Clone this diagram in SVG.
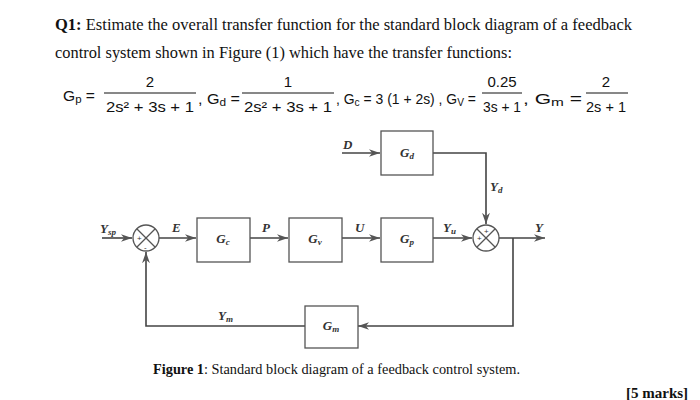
<svg xmlns="http://www.w3.org/2000/svg" width="700" height="400" viewBox="0 0 700 400">
<style>
.t{font-family:"Liberation Serif",serif;font-size:16.5px;fill:#111}
.m{font-family:"Liberation Sans",sans-serif;font-size:15px;fill:#111}
.b rect{fill:#fff;stroke:#555;stroke-width:1.3}
.l{font-family:"Liberation Serif",serif;font-style:italic;font-weight:bold;font-size:13px;fill:#333}
.c line,.c path{stroke:#444;stroke-width:1.6;fill:none}
.s circle{fill:#fff;stroke:#555;stroke-width:1.3}
.s line{stroke:#555;stroke-width:1.2}
.p{font-family:"Liberation Sans",sans-serif;font-size:8px;fill:#333}
</style>
<defs><marker id="a" viewBox="0 0 10 10" refX="10" refY="5" markerWidth="7" markerHeight="7" orient="auto"><path d="M0,1.5 L10,5 L0,8.5 L3,5 z" fill="#555"/></marker></defs>
<rect width="700" height="400" fill="#fff"/>
<text class="t" x="55" y="30" textLength="577" lengthAdjust="spacingAndGlyphs"><tspan font-weight="bold">Q1:</tspan> Estimate the overall transfer function for the standard block diagram of a feedback</text>
<text class="t" x="55" y="58" textLength="457" lengthAdjust="spacingAndGlyphs">control system shown in Figure (1) which have the transfer functions:</text>
<g class="m">
<text x="63" y="101" textLength="32" lengthAdjust="spacingAndGlyphs">G<tspan font-size="11" dy="2">p</tspan><tspan dy="-2"> =</tspan></text>
<text x="150" y="87" text-anchor="middle">2</text>
<line x1="104" y1="93" x2="196" y2="93" stroke="#111"/>
<text x="150" y="112" text-anchor="middle" textLength="88" lengthAdjust="spacingAndGlyphs">2s² + 3s + 1</text>
<text x="198" y="104" textLength="42" lengthAdjust="spacingAndGlyphs">, G<tspan font-size="11" dy="2">d</tspan><tspan dy="-2"> =</tspan></text>
<text x="288" y="87" text-anchor="middle">1</text>
<line x1="242" y1="93" x2="334" y2="93" stroke="#111"/>
<text x="288" y="112" text-anchor="middle" textLength="88" lengthAdjust="spacingAndGlyphs">2s² + 3s + 1</text>
<text x="336" y="104" textLength="140" lengthAdjust="spacingAndGlyphs">, G<tspan font-size="11" dy="2">c</tspan><tspan dy="-2"> = 3 (1 + 2s) , G</tspan><tspan font-size="11" dy="2">V</tspan><tspan dy="-2"> =</tspan></text>
<text x="502" y="87" text-anchor="middle">0.25</text>
<line x1="482" y1="93" x2="522" y2="93" stroke="#111"/>
<text x="502" y="112" text-anchor="middle" textLength="38" lengthAdjust="spacingAndGlyphs">3s + 1</text>
<text x="523" y="104" textLength="59" lengthAdjust="spacingAndGlyphs">, G<tspan font-size="11" dy="2">m</tspan><tspan dy="-2"> =</tspan></text>
<text x="606" y="87" text-anchor="middle">2</text>
<line x1="586" y1="93" x2="628" y2="93" stroke="#111"/>
<text x="606" y="112" text-anchor="middle" textLength="40" lengthAdjust="spacingAndGlyphs">2s + 1</text>
</g>
<g class="c" id="connectors">
<line x1="102" y1="238" x2="132" y2="238" marker-end="url(#a)"/>
<line x1="159" y1="238" x2="196" y2="238" marker-end="url(#a)"/>
<line x1="250" y1="238" x2="288" y2="238" marker-end="url(#a)"/>
<line x1="342" y1="238" x2="380" y2="238" marker-end="url(#a)"/>
<line x1="433" y1="238" x2="472" y2="238" marker-end="url(#a)"/>
<line x1="499" y1="238" x2="545" y2="238" marker-end="url(#a)"/>
<line x1="342" y1="153" x2="380" y2="153" marker-end="url(#a)"/>
<path d="M433,153 H486 V224" marker-end="url(#a)"/>
<path d="M513,238 V326 H358" marker-end="url(#a)"/>
<path d="M305,326 H146 V252" marker-end="url(#a)"/>
</g>
<g id="sum1" class="s"><circle cx="146" cy="238" r="13"/><line x1="137" y1="229" x2="155" y2="247"/><line x1="155" y1="229" x2="137" y2="247"/><text class="p" x="137" y="241">+</text><text class="p" x="144" y="250">-</text></g>
<g id="sum2" class="s"><circle cx="486" cy="238" r="13"/><line x1="477" y1="229" x2="495" y2="247"/><line x1="495" y1="229" x2="477" y2="247"/><text class="p" x="477" y="241">+</text><text class="p" x="484" y="234">+</text></g>
<g id="Gd" class="b"><rect x="381" y="131" width="52" height="44"/><text class="l" x="407" y="157" text-anchor="middle">G<tspan font-size="9" dy="2">d</tspan></text></g>
<g id="Gc" class="b"><rect x="197" y="218" width="53" height="44"/><text class="l" x="223" y="243" text-anchor="middle">G<tspan font-size="9" dy="2">c</tspan></text></g>
<g id="Gv" class="b"><rect x="289" y="218" width="53" height="44"/><text class="l" x="315" y="243" text-anchor="middle">G<tspan font-size="9" dy="2">v</tspan></text></g>
<g id="Gp" class="b"><rect x="381" y="218" width="52" height="44"/><text class="l" x="407" y="243" text-anchor="middle">G<tspan font-size="9" dy="2">p</tspan></text></g>
<g id="Gm" class="b"><rect x="305" y="306" width="53" height="42"/><text class="l" x="331" y="330" text-anchor="middle">G<tspan font-size="9" dy="2">m</tspan></text></g>
<g class="l">
<text x="343" y="149">D</text>
<text x="490" y="191">Y<tspan font-size="9" dy="2">d</tspan></text>
<text x="100" y="233">Y<tspan font-size="9" dy="2">sp</tspan></text>
<text x="172" y="232">E</text>
<text x="262" y="232">P</text>
<text x="355" y="232">U</text>
<text x="443" y="232">Y<tspan font-size="9" dy="2">u</tspan></text>
<text x="535" y="232">Y</text>
<text x="218" y="320">Y<tspan font-size="9" dy="2">m</tspan></text>
</g>
<text x="153" y="374" font-family="Liberation Serif,serif" font-size="14" fill="#111" textLength="367" lengthAdjust="spacingAndGlyphs"><tspan font-weight="bold">Figure 1</tspan>: Standard block diagram of a feedback control system.</text>
<text x="626" y="398" font-family="Liberation Serif,serif" font-size="15" font-weight="bold" fill="#111">[5 marks]</text>
</svg>
